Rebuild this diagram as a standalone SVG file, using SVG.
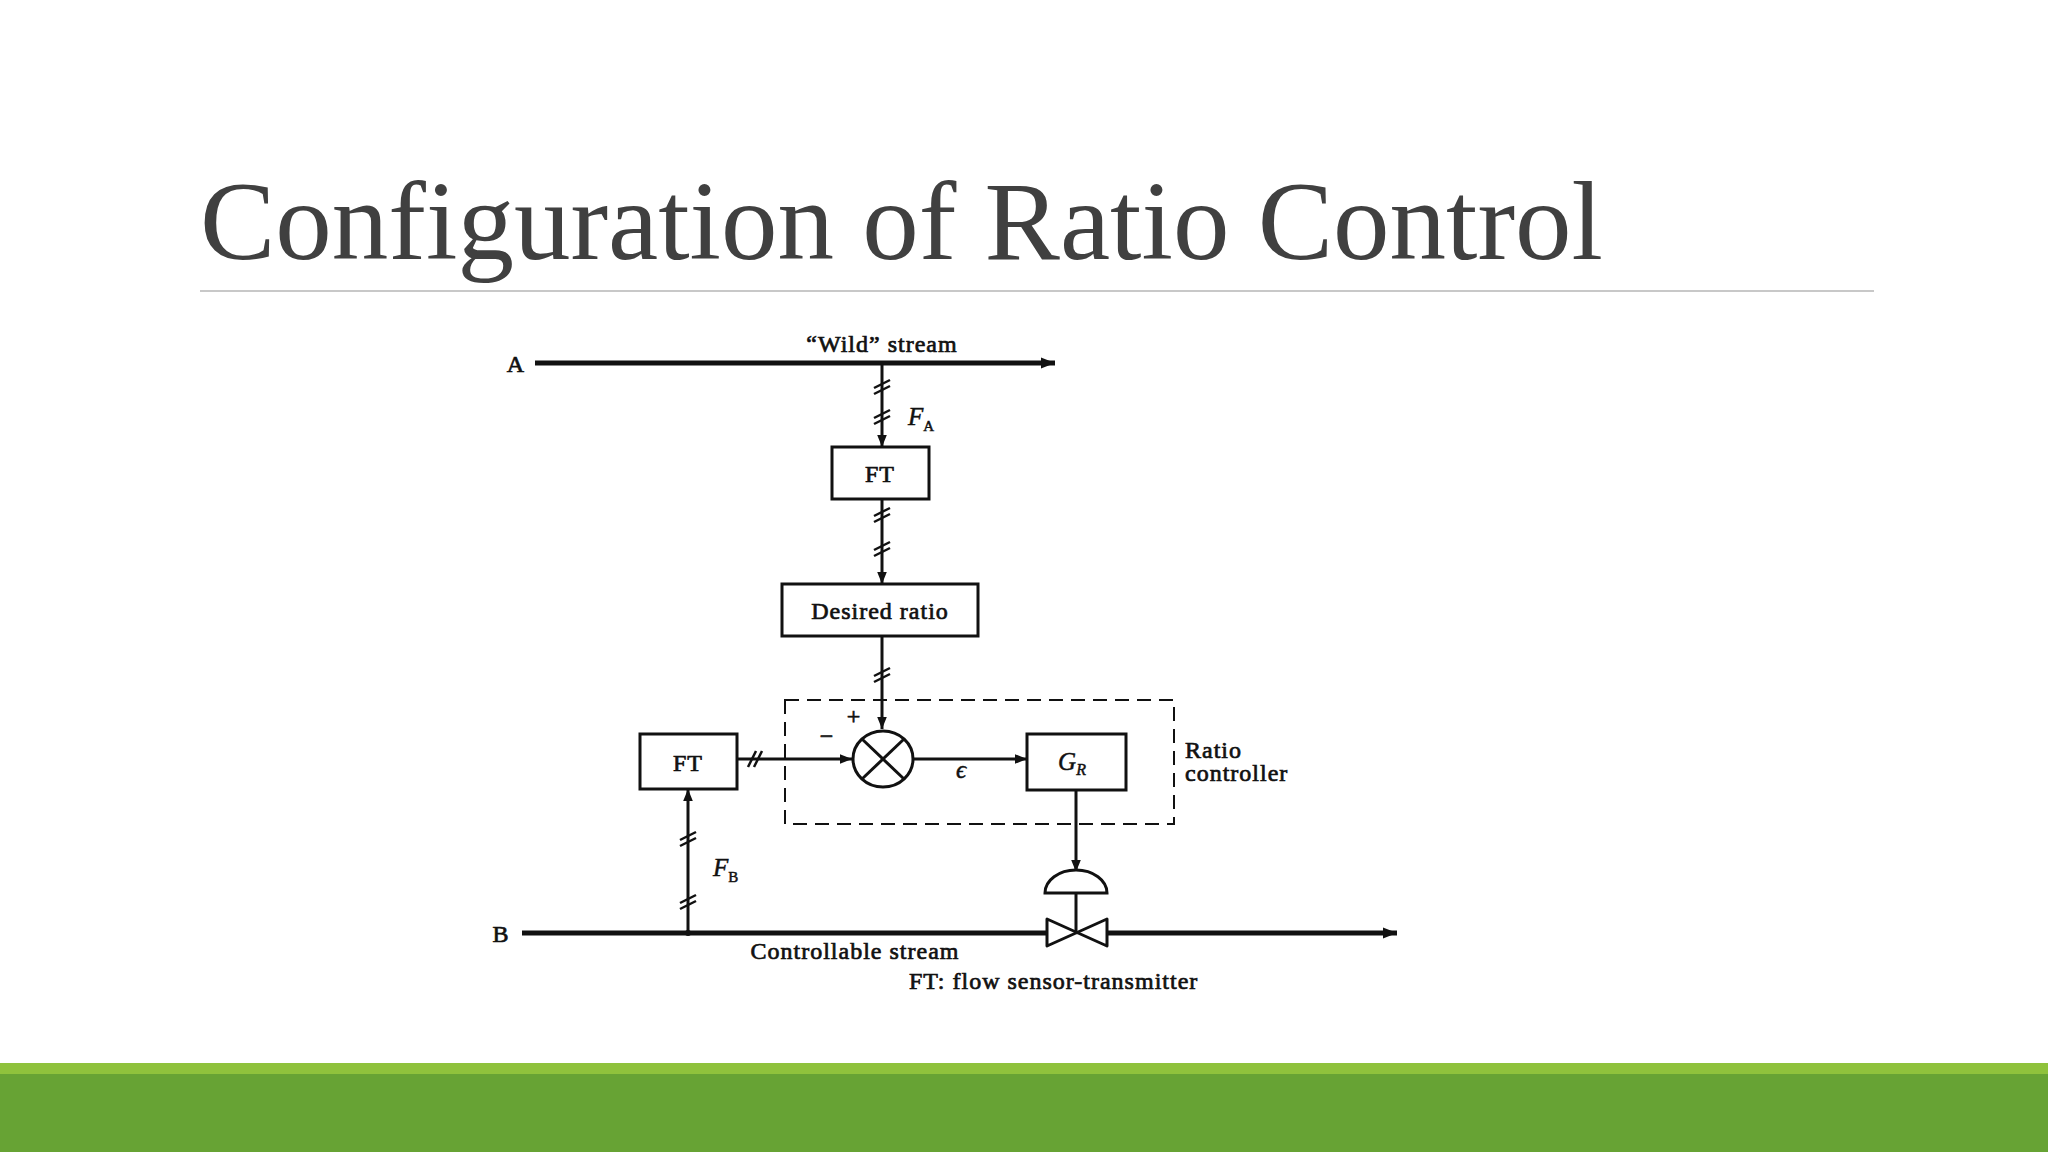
<svg xmlns="http://www.w3.org/2000/svg" width="2048" height="1152" viewBox="0 0 2048 1152">
<defs>
<marker id="ah" viewBox="0 0 10 10" refX="10" refY="5" markerWidth="12" markerHeight="16" markerUnits="userSpaceOnUse" orient="auto"><path d="M0,1 L10,5 L0,9 Z" fill="#111"/></marker>
<marker id="ahb" viewBox="0 0 10 10" refX="10" refY="5" markerWidth="30" markerHeight="14" markerUnits="userSpaceOnUse" orient="auto"><path d="M0,1 L10,5 L0,9 Z" fill="#111"/></marker>
</defs>
<style>
.t{font-family:"Liberation Serif",serif;font-size:24px;fill:#111;stroke:#111;stroke-width:0.7;letter-spacing:1px}
.i{font-family:"Liberation Serif",serif;font-style:italic;font-size:25px;fill:#111;stroke:#111;stroke-width:0.5}
.box{fill:#fff;stroke:#111;stroke-width:3}
.ln{stroke:#111;stroke-width:3;fill:none}
.pipe{stroke:#111;stroke-width:5;fill:none}
.tk{stroke:#111;stroke-width:2.5}
</style>
<rect width="2048" height="1152" fill="#fff"/>
<text x="200" y="259" font-family="Liberation Serif,serif" font-size="113" fill="#404040">Configuration of Ratio Control</text>
<line x1="200" y1="291" x2="1874" y2="291" stroke="#c8c8c8" stroke-width="2"/>
<rect x="0" y="1063" width="2048" height="11" fill="#8fc23c"/>
<rect x="0" y="1074" width="2048" height="78" fill="#67a334"/>

<g id="connectors">
<line class="pipe" x1="535" y1="363" x2="1055" y2="363" marker-end="url(#ahb)"/>
<line class="pipe" x1="522" y1="933" x2="1047" y2="933"/>
<line class="pipe" x1="1107" y1="933" x2="1397" y2="933" marker-end="url(#ahb)"/>
<line class="ln" x1="882" y1="363" x2="882" y2="447" marker-end="url(#ah)"/>
<line class="ln" x1="882" y1="499" x2="882" y2="584" marker-end="url(#ah)"/>
<line class="ln" x1="882" y1="636" x2="882" y2="729" marker-end="url(#ah)"/>
<line class="ln" x1="737" y1="759" x2="852" y2="759" marker-end="url(#ah)"/>
<line class="ln" x1="914" y1="759" x2="1027" y2="759" marker-end="url(#ah)"/>
<line class="ln" x1="1076" y1="790" x2="1076" y2="872" marker-end="url(#ah)"/>
<line class="ln" x1="1076" y1="893" x2="1076" y2="933"/>
<line class="ln" x1="688" y1="933" x2="688" y2="789" marker-end="url(#ah)"/>
<circle cx="688" cy="933" r="3" fill="#111"/>
<g class="tk">
<line x1="874" y1="388" x2="890" y2="380"/><line x1="874" y1="394" x2="890" y2="386"/>
<line x1="874" y1="418" x2="890" y2="410"/><line x1="874" y1="424" x2="890" y2="416"/>
<line x1="874" y1="516" x2="890" y2="508"/><line x1="874" y1="522" x2="890" y2="514"/>
<line x1="874" y1="550" x2="890" y2="542"/><line x1="874" y1="556" x2="890" y2="548"/>
<line x1="874" y1="676" x2="890" y2="668"/><line x1="874" y1="682" x2="890" y2="674"/>
<line x1="748" y1="767" x2="756" y2="751"/><line x1="754" y1="767" x2="762" y2="751"/>
<line x1="680" y1="840" x2="696" y2="832"/><line x1="680" y1="846" x2="696" y2="838"/>
<line x1="680" y1="903" x2="696" y2="895"/><line x1="680" y1="909" x2="696" y2="901"/>
</g>
</g>

<g id="dashed-box"><rect x="785" y="700" width="389" height="124" fill="none" stroke="#111" stroke-width="2" stroke-dasharray="14,8"/></g>
<g id="ft1"><rect class="box" x="832" y="447" width="97" height="52"/><text class="t" x="880" y="482" text-anchor="middle">FT</text></g>
<g id="desired"><rect class="box" x="782" y="584" width="196" height="52"/><text class="t" x="880" y="619" text-anchor="middle">Desired ratio</text></g>
<g id="sum"><ellipse cx="883" cy="759" rx="30" ry="28" fill="#fff" stroke="#111" stroke-width="3"/>
<line class="ln" x1="862" y1="739" x2="904" y2="779"/><line class="ln" x1="904" y1="739" x2="862" y2="779"/></g>
<g id="ft2"><rect class="box" x="640" y="734" width="97" height="55"/><text class="t" x="688" y="771" text-anchor="middle">FT</text></g>
<g id="gr"><rect class="box" x="1027" y="734" width="99" height="56"/><text class="i" x="1072" y="770" text-anchor="middle">G<tspan font-size="16" dy="5">R</tspan></text></g>
<g id="actuator"><path d="M1045,893 A31,23 0 0 1 1107,893 Z" fill="#fff" stroke="#111" stroke-width="3"/></g>
<g id="valve"><path d="M1047,919 L1107,946 L1107,919 L1047,946 Z" fill="#fff" stroke="#111" stroke-width="3" stroke-linejoin="round"/></g>

<g id="labels">
<text class="t" x="516" y="372" text-anchor="middle">A</text>
<text class="t" x="501" y="942" text-anchor="middle">B</text>
<text class="t" x="882" y="352" text-anchor="middle">“Wild” stream</text>
<text class="i" x="908" y="425">F<tspan font-size="15" dy="6" font-style="normal">A</tspan></text>
<text class="i" x="713" y="876">F<tspan font-size="15" dy="6" font-style="normal">B</tspan></text>
<text class="t" x="854" y="724" text-anchor="middle">+</text>
<text class="t" x="827" y="744" text-anchor="middle">−</text>
<text class="i" x="961" y="778" text-anchor="middle">ϵ</text>
<text class="t" x="1185" y="758">Ratio</text>
<text class="t" x="1185" y="781">controller</text>
<text class="t" x="855" y="959" text-anchor="middle">Controllable stream</text>
<text class="t" x="909" y="989">FT: flow sensor-transmitter</text>
</g>
</svg>
